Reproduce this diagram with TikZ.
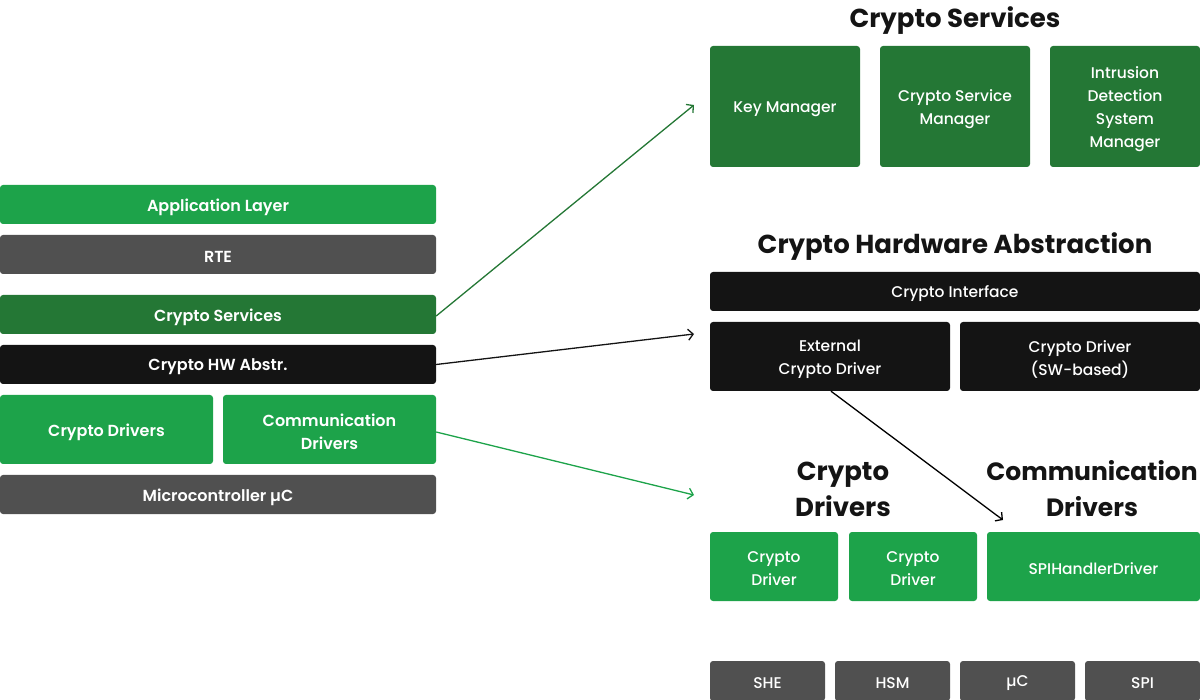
\documentclass[tikz,border=0pt]{standalone}
\usepackage{fontspec}
\setmainfont{Poppins}
\newfontfamily\semib{Poppins SemiBold}
\newfontfamily\medf{Poppins Medium}
\usetikzlibrary{arrows.meta}
\definecolor{gbright}{HTML}{1DA34A}
\definecolor{gdark}{HTML}{247735}
\definecolor{ggray}{HTML}{505050}
\definecolor{gblack}{HTML}{141414}
\tikzset{
  box/.style={rounded corners=3pt, inner sep=0pt},
  btxt/.style={text=white, align=center, inner sep=0pt, font=\medf\fontsize{15.5}{23}\selectfont},
  ltxt/.style={text=white, align=center, inner sep=0pt, font=\semib\fontsize{16}{23}\selectfont},
  title/.style={align=center, text=gblack, font=\fontsize{26}{36}\selectfont\bfseries},
  conn/.style={line width=1.3pt, -{Straight Barb[length=5pt,width=11pt]}},
}
% name, fill, text style, x, y, w, h, text
\newcommand\bx[8]{%
  \node[box, fill=#2, minimum width=#6pt, minimum height=#7pt] (#1) at (#4,#5) {};
  \node[#3] at ([yshift=-2.5pt]#1.center) {#8};}
\begin{document}
\begin{tikzpicture}[x=1pt,y=-1pt]
\useasboundingbox (0,0) rectangle (1200,700);
% left stack
\bx{app}{gbright}{ltxt}{218}{204.5}{436}{39}{Application Layer}
\bx{rte}{ggray}{ltxt}{218}{254.5}{436}{39}{RTE}
\bx{cs}{gdark}{ltxt}{218}{314.5}{436}{39}{Crypto Services}
\bx{chw}{gblack}{ltxt}{218}{364.5}{436}{39}{Crypto HW Abstr.}
\bx{cd}{gbright}{ltxt}{106.5}{429.5}{213}{69}{Crypto Drivers}
\bx{comd}{gbright}{ltxt}{329.5}{429.5}{213}{69}{Communication\\Drivers}
\bx{mc}{ggray}{ltxt}{218}{494.5}{436}{39}{Microcontroller µC}
% crypto services
\node[title] (t1) at (955,21) {Crypto Services};
\bx{km}{gdark}{btxt}{785}{106.5}{150}{121}{Key Manager}
\bx{csm}{gdark}{btxt}{955}{106.5}{150}{121}{Crypto Service\\Manager}
\bx{ids}{gdark}{btxt}{1125}{106.5}{150}{121}{Intrusion\\Detection\\System\\Manager}
% crypto hw abstraction
\node[title] (t2) at (955,247) {Crypto Hardware Abstraction};
\bx{ci}{gblack}{btxt}{955}{291.5}{490}{39}{Crypto Interface}
\bx{ecd}{gblack}{btxt}{830}{356.5}{240}{69}{External\\Crypto Driver}
\bx{swd}{gblack}{btxt}{1080}{356.5}{240}{69}{Crypto Driver\\(SW-based)}
% drivers
\node[title] (t3) at (843,489) {Crypto\\Drivers};
\node[title, font=\fontsize{25}{36}\selectfont\bfseries] (t4) at (1092,489) {Communication\\Drivers};
\bx{d1}{gbright}{btxt}{774}{566.5}{128}{69}{Crypto\\Driver}
\bx{d2}{gbright}{btxt}{913}{566.5}{128}{69}{Crypto\\Driver}
\bx{spi}{gbright}{btxt}{1093.5}{566.5}{213}{69}{SPIHandlerDriver}
% hardware
\bx{she}{ggray}{btxt}{767.5}{681}{115}{40}{SHE}
\bx{hsm}{ggray}{btxt}{892.5}{681}{115}{40}{HSM}
\bx{uc}{ggray}{btxt}{1017.5}{681}{115}{40}{µC}
\bx{spihw}{ggray}{btxt}{1142.5}{681}{115}{40}{SPI}
% connectors
\coordinate (a1) at (694,105);
\coordinate (a2) at (694,334);
\coordinate (a3) at (694,495);
\coordinate (a4) at (1003,520);
\draw[conn, gdark] (cs.east) ++(0,1.5) -- (a1);
\draw[conn, gblack] (chw.east) -- (a2);
\draw[conn, gbright] (comd.east) ++(0,2.5) -- (a3);
\draw[conn, black] (ecd.south) ++(1,0) -- (a4);
\end{tikzpicture}
\end{document}
